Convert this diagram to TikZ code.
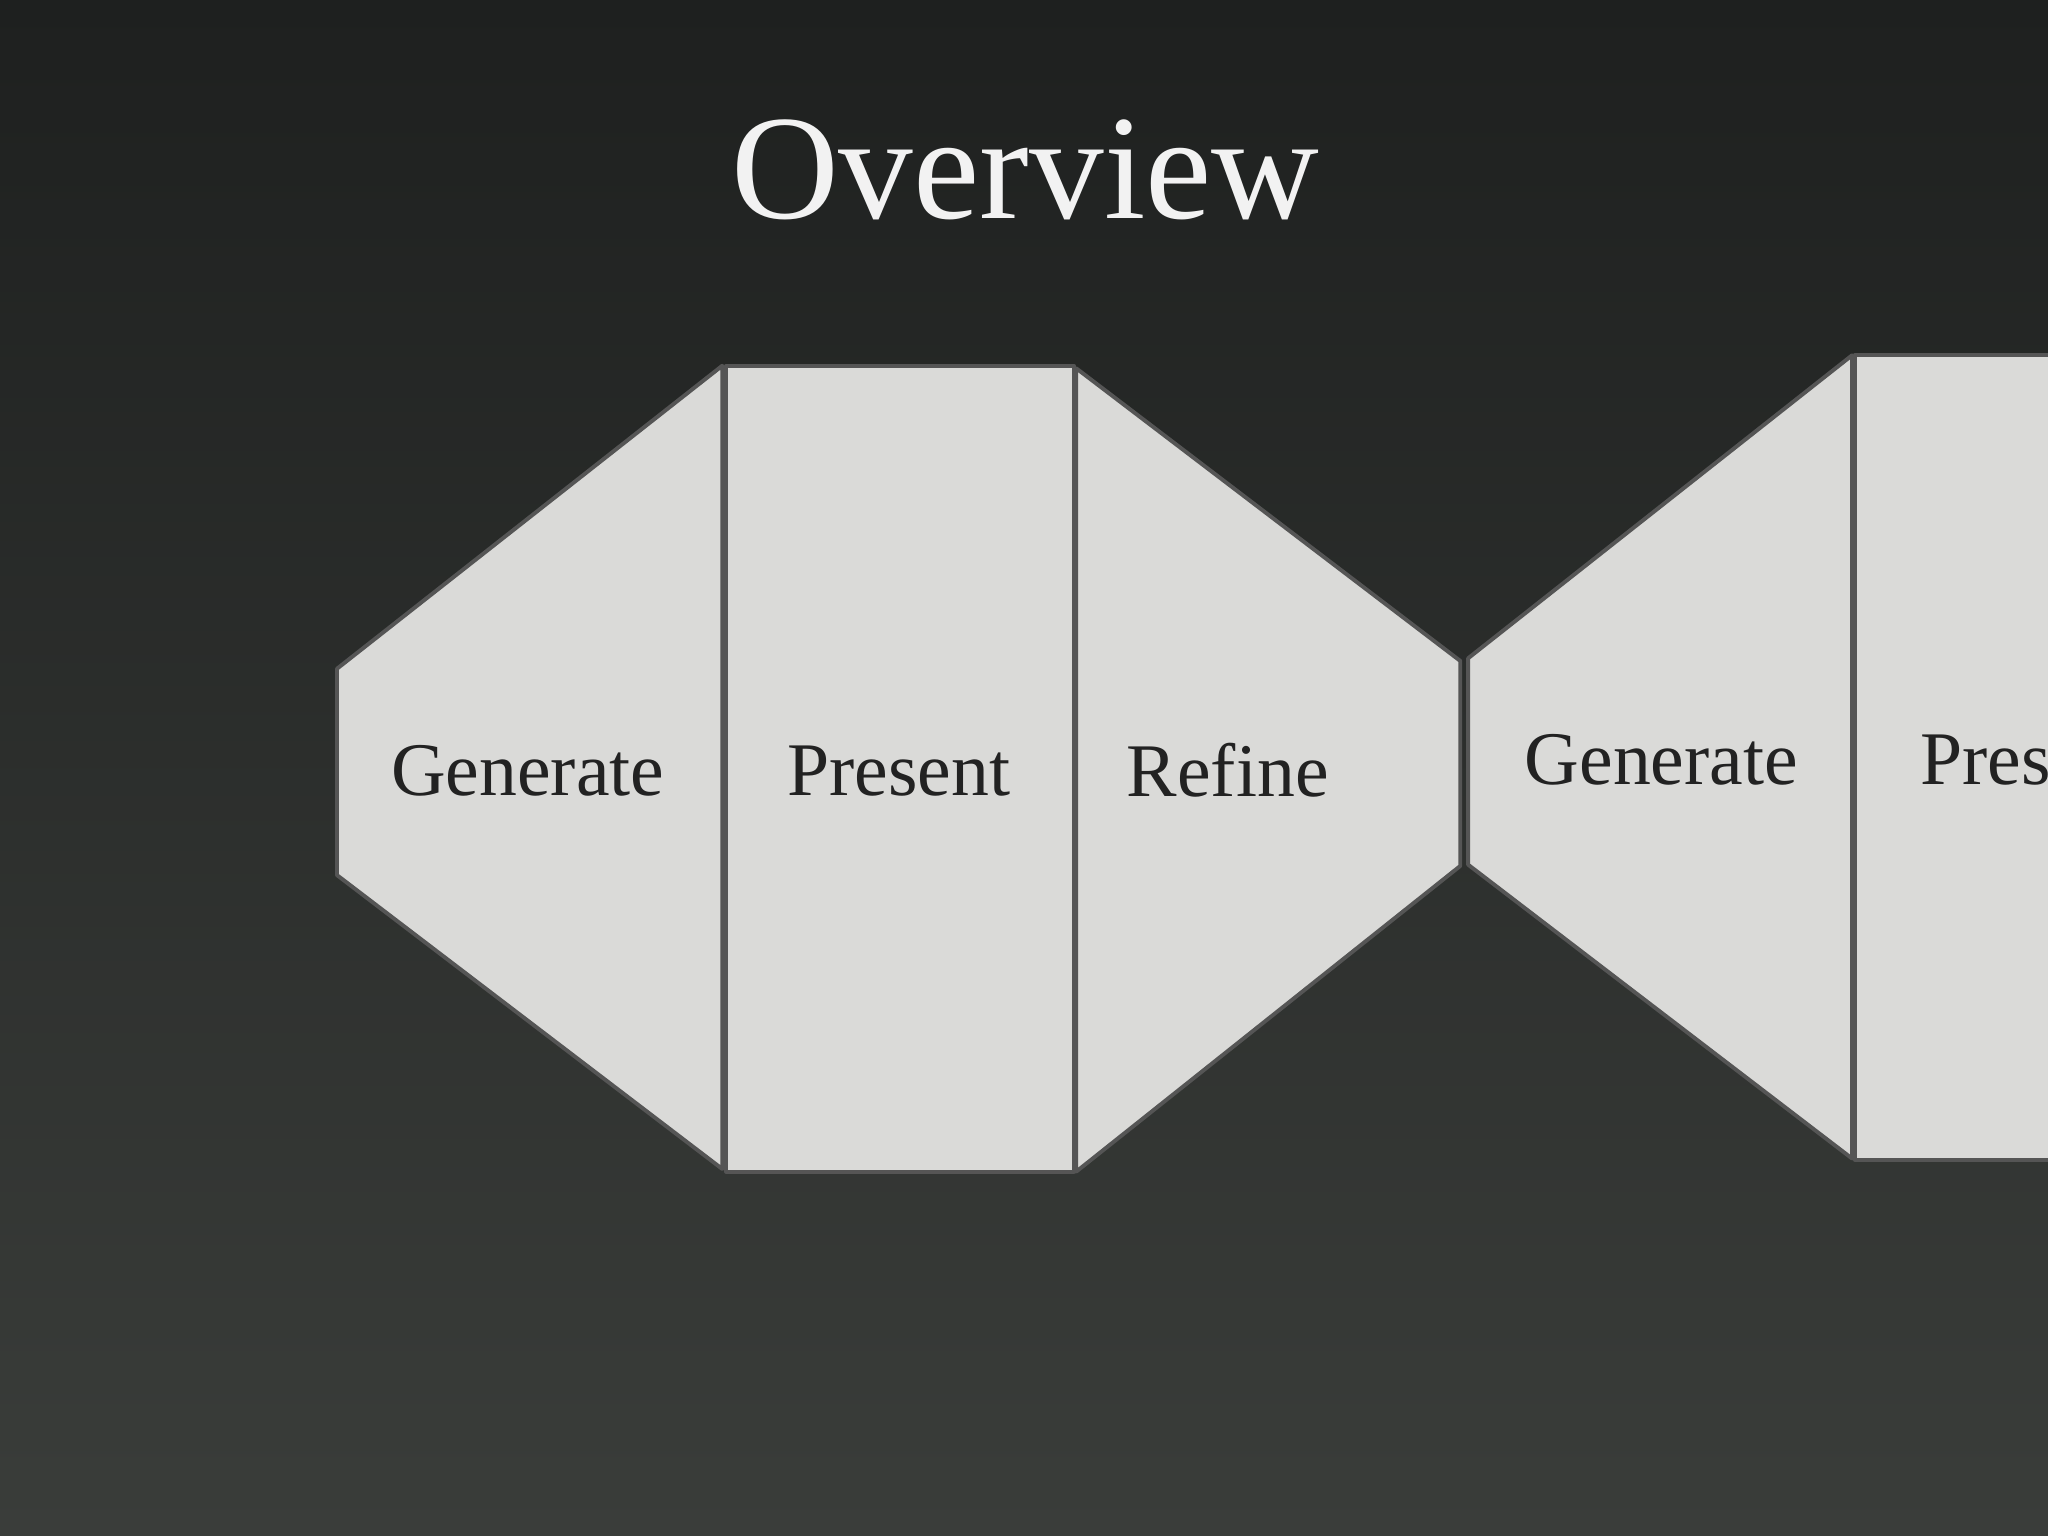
\documentclass[tikz,border=0pt]{standalone}
\usepackage{fontspec}
\setmainfont{Liberation Serif}
\definecolor{bgtop}{HTML}{1E201F}
\definecolor{bgbot}{HTML}{3A3D3A}
\definecolor{shp}{HTML}{DADAD8}
\definecolor{edge}{HTML}{555555}
\definecolor{ink}{HTML}{222222}
\begin{document}
\begin{tikzpicture}[x=0.02cm,y=-0.02cm,
  piece/.style={fill=shp,draw=edge,line width=0.06cm,line join=round},
  lbl/.style={text=ink,font=\fontsize{33}{38}\selectfont}]
\useasboundingbox (0,0) rectangle (1568,1176);
\shade[top color=bgtop,bottom color=bgbot] (0,0) rectangle (1568,1176);
\clip (0,0) rectangle (1568,1176);
\node[text=white!90!gray,font=\fontsize{65}{76}\selectfont] (title) at (785,130) {Overview};
\draw[piece] (553,280) -- (258,512) -- (258,670) -- (553,895) -- cycle;
\draw[piece] (556,280) rectangle (822,897);
\draw[piece] (824,282) -- (1118,506) -- (1118,663) -- (824,897) -- cycle;
\draw[piece] (1418,272) -- (1124,504) -- (1124,662) -- (1418,887) -- cycle;
\draw[piece] (1420,272) rectangle (1600,888);
\node[lbl] (g1) at (404,590) {Generate};
\node[lbl] (p1) at (688,590) {Present};
\node[lbl] (r1) at (940,590) {Refine};
\node[lbl] (g2) at (1272,582) {Generate};
\node[lbl,anchor=west,inner sep=0pt] (p2) at (1470,582) {Present};
\end{tikzpicture}
\end{document}
